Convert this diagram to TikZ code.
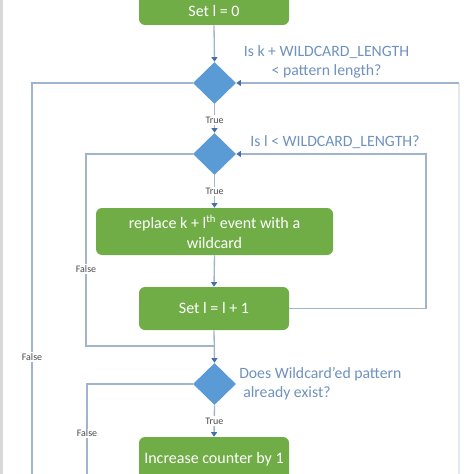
\documentclass[tikz,border=0pt]{standalone}
\usepackage{fontspec}
\setmainfont{Carlito}
\usetikzlibrary{shapes.geometric,arrows.meta}
\definecolor{boxgreen}{RGB}{112,173,71}
\definecolor{diablue}{RGB}{91,155,213}
\definecolor{linecol}{RGB}{160,180,205}
\definecolor{arrcol}{RGB}{70,110,170}
\definecolor{lblcol}{RGB}{110,145,190}
\definecolor{faint}{RGB}{225,232,240}
\tikzset{
  px/.style={x=0.75pt,y=-0.75pt},
  procbox/.style={draw=none,fill=boxgreen,rounded corners=4.5pt,text=white,
    font=\fontsize{12}{15}\selectfont,align=center,inner sep=0pt},
  boxtext/.style={text=white,font=\fontsize{12}{15}\selectfont,inner sep=0pt},
  decide/.style={diamond,draw=none,fill=diablue,minimum width=32.25pt,
    minimum height=31.5pt,inner sep=0pt,aspect=1},
  conn/.style={draw=linecol,line width=1pt},
  arr/.style={conn,-{Triangle[width=4.5pt,length=3.5pt,color=arrcol]}},
  qlabel/.style={text=lblcol,font=\fontsize{11.8}{14.25}\selectfont,inner sep=0pt},
  tflabel/.style={text=black!70,font=\fontsize{7.5}{8}\selectfont,fill=white,inner sep=1pt}
}
\begin{document}
\begin{tikzpicture}[px]
\useasboundingbox (0,0) rectangle (474,474);
\clip (0,0) rectangle (474,474);
\fill[black!15] (0,0) rectangle (2.5,474);
% nodes
\node[procbox,minimum width=112.5pt,minimum height=32.25pt] (b1) at (214,3.5) {};
\node[boxtext] (b1t) at (214,11) {Set l = 0};
\node[decide] (d1) at (214.5,83) {};
\node[decide] (d2) at (214.5,154) {};
\node[procbox,minimum width=177.75pt,minimum height=35.25pt] (b2) at (214.5,231.5) {replace k + l\textsuperscript{th} event with a\\wildcard};
\node[procbox,minimum width=112.5pt,minimum height=32.25pt] (b3) at (214,308.5) {Set l = l + 1};
\node[decide] (d3) at (214.5,384) {};
\node[procbox,minimum width=112.5pt,minimum height=32.25pt] (b4) at (214,458.5) {};
\node[boxtext] (b4t) at (214,459) {Increase counter by 1};
% question labels
\node[qlabel,align=center] (q1) at (326.5,61.5) {Is k + WILDCARD\_LENGTH\\< pattern length?};
\node[qlabel] (q2) at (335,142) {Is l < WILDCARD\_LENGTH?};
\node[qlabel,align=left,anchor=west] (q3) at (239,383.5) {Does Wildcard’ed pattern\\\hspace{3pt}already exist?};
% coordinates
\coordinate (r1) at (459,474);
\coordinate (r2) at (459,83);
\coordinate (l1a) at (32,83);
\coordinate (l1b) at (32,474);
\coordinate (l2a) at (86,154);
\coordinate (l2b) at (86,346);
\coordinate (j2) at (214.5,346);
\coordinate (l3a) at (87,384);
\coordinate (l3b) at (87,474);
\coordinate (s3a) at (426,308.5);
\coordinate (s3b) at (426,154);
% connectors
\draw[arr] (b1.south) -- (d1.north);
\draw[arr] (d1.south) -- node[tflabel,pos=0.55] (t1) {True} (d2.north);
\draw[arr] (d2.south) -- node[tflabel,pos=0.5] (t2) {True} (b2.north);
\draw[arr] (b2.south) -- (b3.north);
\draw[arr] (b3.south) -- (d3.north);
\draw[arr] (d3.south) -- node[tflabel,pos=0.5] (t3) {True} (b4.north);
\draw[arr] (b3.east) -- (s3a) -- (s3b) -- (d2.east);
\draw[conn] (d2.west) -- (l2a) -- node[tflabel,pos=0.6] (f2) {False} (l2b) -- (j2);
\draw[conn] (d1.west) -- (l1a) -- node[tflabel,pos=0.7] (f1) {False} (l1b);
\draw[conn] (d3.west) -- (l3a) -- node[tflabel,pos=0.55] (f3) {False} (l3b);
\draw[draw=faint,line width=1pt] (r1) -- (r2);
\draw[arr] (r2) -- (d1.east);
\end{tikzpicture}
\end{document}
